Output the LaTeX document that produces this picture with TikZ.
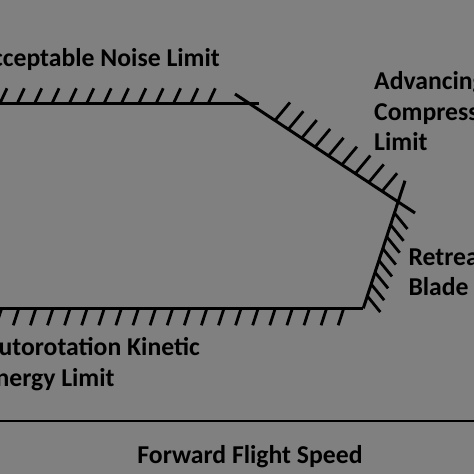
\documentclass[tikz,border=0pt]{standalone}
\usepackage{fontspec}
\setmainfont{Carlito}
\usetikzlibrary{calc,positioning}

\definecolor{bggray}{RGB}{128,128,128}
\tikzset{
  limitline/.style={line width=3pt},
  hatch/.style={line width=2.8pt},
  lbl/.style={inner sep=0pt, font=\fontsize{25.7}{30}\selectfont\bfseries, text=black}
}

\begin{document}
\begin{tikzpicture}[x=1pt,y=-1pt]
  % background
  \useasboundingbox (0,0) rectangle (474,474);
  \fill[bggray] (0,0) rectangle (474,474);
  \clip (0,0) rectangle (474,474);

  % corners of the envelope
  \coordinate (tl) at (-5,103.3);
  \coordinate (tr) at (259,103.3);
  \coordinate (dA) at (235,94);
  \coordinate (dB) at (415,213);
  \coordinate (rB) at (363.3,308.3);
  \coordinate (rT) at (405,180.7);
  \coordinate (bl) at (-5,308.3);

  % limit lines
  \draw[limitline] (tl) -- (tr);
  \draw[limitline] (dA) -- (dB);
  \draw[limitline] (rB) -- (rT);
  \draw[limitline] (bl) -- (rB);

  % hatching
  \foreach \i in {0,...,12}
    \draw[hatch] (17.36*\i,103.3) -- ++(7,-15);
  \foreach \i in {0,...,8}
    \draw[hatch] ($(dA)!{0.222+0.0744*\i}!(dB)$) -- ++(15,-18);
  \foreach \i in {0,...,7}
    \draw[hatch] ($(rB)!{0.096+0.093*\i}!(rT)$) -- ++(13,16);
  \foreach \i in {0,...,20}
    \draw[hatch] (1.7+17.1*\i,308.3) -- ++(-5.5,17);

  % axis
  \coordinate (ax1) at (0,420.7);
  \coordinate (ax2) at (474,420.7);
  \draw[line width=2pt] (ax1) -- (ax2);

  % labels
  \node[lbl, anchor=base east] (noise) at (220,66.7) {Acceptable Noise Limit};
  \node[lbl, anchor=base west] (adv) at (374,89.5) {Advancing};
  \node[lbl, anchor=base west] (comp) at ([yshift=-30.7pt]adv.base west) {Compressibility};
  \node[lbl, anchor=base west] (advlim) at ([yshift=-30.7pt]comp.base west) {Limit};
  \node[lbl, anchor=base west] (retr) at (408.3,265) {Retreating};
  \node[lbl, anchor=base west] (blade) at ([yshift=-30.7pt]retr.base west) {Blade};
  \node[lbl, anchor=base east] (auto) at (200,355) {Autorotation Kinetic};
  \node[lbl, anchor=base west] (energy) at ([yshift=-31.5pt]auto.base west) {Energy Limit};
  \node[lbl, anchor=base] (speed) at (250,463.3) {Forward Flight Speed};
\end{tikzpicture}
\end{document}
